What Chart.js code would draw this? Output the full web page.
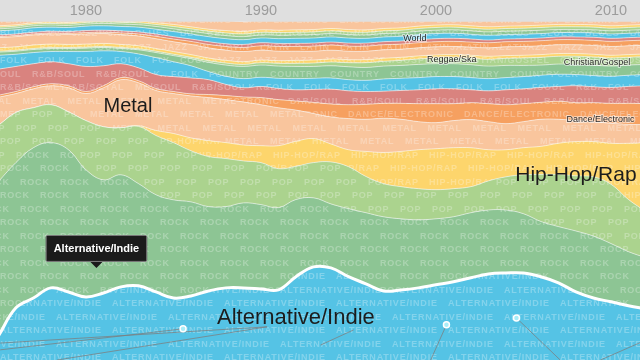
<!DOCTYPE html>
<html>
<head>
<meta charset="utf-8">
<script src="https://cdn.jsdelivr.net/npm/chart.js@4/dist/chart.umd.min.js"></script>
<style>
  html, body { margin: 0; padding: 0; background: #dfdfdf; }
  canvas { display: block; }
</style>
</head>
<body>
<canvas id="chart" width="640" height="360"></canvas>
<script>
// share of listening per genre, by year (bottom layer first)
const YEARS = [1975,1976,1977,1978,1979,1980,1981,1982,1983,1984,1985,1986,1987,1988,1989,1990,1991,1992,1993,1994,1995,1996,1997,1998,1999,2000,2001,2002,2003,2004,2005,2006,2007,2008,2009,2010,2011,2012];
const YEAR_TICKS = [1980, 1990, 2000, 2010];

const ALT = [7.1,15.4,18.3,21.3,20.1,18.6,19.8,21.6,21.9,20.1,18.3,18.9,20.4,21.3,21.3,21.0,20.7,24.6,27.5,27.2,24.6,22.5,20.4,20.7,21.3,22.2,23.1,24.3,25.4,25.7,25.7,24.6,22.8,20.1,18.3,17.2,16.0,15.1];
const ROCK = [45.6,42.9,44.4,42.9,42.0,37.6,33.4,33.1,30.2,28.7,29.0,27.8,24.9,24.0,25.1,24.9,24.3,22.8,20.4,18.9,20.1,21.0,21.9,21.0,20.1,19.5,19.2,19.2,18.9,18.6,17.5,16.3,16.6,18.0,18.3,17.2,16.0,15.1];
const POP = [16.6,14.8,11.8,11.2,11.2,14.5,15.7,13.9,16.9,17.5,16.9,15.1,14.8,14.2,12.4,12.4,11.5,9.8,10.4,12.4,12.4,10.7,9.8,9.5,9.2,8.6,8.3,7.7,8.6,9.8,11.5,13.9,15.4,16.3,17.5,17.5,15.4,13.6];
const HIPHOP = [0,0,0,0,0,0,0,0,0.2,1.5,2.7,3.8,4.7,4.7,4.7,5.0,6.8,7.4,7.1,5.3,5.0,7.4,9.2,10.4,11.5,12.1,12.1,11.5,9.2,8.0,8.0,8.3,9.2,10.1,10.4,12.1,16.6,20.4];
const METAL = [8.3,5.6,5.6,5.6,7.1,8.0,11.5,14.2,12.7,11.8,11.8,12.4,12.7,12.7,12.7,12.1,11.2,9.2,7.4,8.0,9.2,9.5,10.1,9.5,8.3,7.7,8.0,8.3,8.3,7.7,7.7,8.0,7.1,6.2,5.9,5.9,5.6,5.3];
const DANCE = [0.6,0.6,0.6,0.6,0.6,0.6,0.6,0.6,0.6,0.6,0.6,0.6,0.9,1.2,1.5,2.1,2.4,2.7,3.3,3.8,4.1,4.4,4.4,4.7,5.3,5.6,5.0,5.0,5.3,5.6,5.3,5.0,5.3,5.3,5.6,5.9,6.2,6.2];
const RNB = [7.7,7.4,6.8,6.5,6.5,7.4,5.9,4.1,3.8,4.1,4.4,4.7,4.4,3.3,2.7,3.3,3.3,3.3,3.8,4.4,4.1,3.8,3.6,3.8,4.1,4.4,4.4,3.8,3.8,4.4,4.4,4.4,4.4,5.0,4.7,4.7,5.0,5.3];
const FOLK = [4.1,3.6,3.3,3.0,3.6,4.4,4.4,3.6,4.1,5.0,4.4,3.6,2.4,2.4,2.7,2.7,3.0,3.3,3.3,3.3,3.3,3.3,3.6,3.6,3.6,3.6,3.6,3.6,3.6,3.6,3.6,3.6,3.6,3.3,3.3,3.3,3.3,3.3];
const COUNTRY = [0.9,0.9,0.9,0.9,0.9,1.0,1.0,0.9,1.2,1.5,1.8,2.1,2.7,3.3,3.6,3.6,3.6,3.6,3.5,3.6,3.8,3.8,3.8,3.8,3.9,3.8,3.8,3.8,3.7,3.6,3.3,3.0,3.0,3.0,3.1,3.0,3.0,3.0];
const GOSPEL = [0.3,0.3,0.3,0.3,0.3,0.3,0.3,0.3,0.3,0.4,0.4,0.4,0.5,0.6,0.6,0.7,0.8,0.9,1.0,1.1,1.2,1.4,1.4,1.5,1.6,1.7,1.8,1.9,2.0,2.1,2.2,2.3,2.3,2.4,2.4,2.4,2.3,2.3];
const REGGAE = [1.0,1.0,1.0,1.0,0.9,0.9,0.9,0.9,0.9,0.8,0.8,0.8,0.8,0.8,0.8,0.8,0.8,0.9,0.9,0.9,0.9,0.9,0.9,0.9,0.9,0.9,0.9,0.9,0.9,0.8,0.8,0.8,0.8,0.8,0.8,0.8,0.8,0.8];
const JAZZ = [3.0,3.0,3.0,3.0,3.0,3.0,2.9,2.9,2.9,2.9,2.9,3.0,3.0,3.0,3.0,2.9,2.8,2.7,2.6,2.6,2.5,2.5,2.5,2.4,2.4,2.4,2.4,2.4,2.5,2.6,2.6,2.6,2.6,2.6,2.6,2.6,2.6,2.6];
const LATIN = [0.3,0.3,0.3,0.3,0.3,0.4,0.4,0.5,0.6,0.7,0.8,0.9,1.0,1.1,1.2,1.3,1.4,1.4,1.5,1.5,1.5,1.5,1.5,1.5,1.5,1.5,1.5,1.5,1.5,1.5,1.5,1.5,1.5,1.5,1.5,1.5,1.5,1.5];
const WORLD = [0.5,0.5,0.5,0.5,0.5,0.6,0.6,0.6,0.6,0.7,0.7,0.7,0.8,0.8,0.9,0.9,0.9,0.9,0.9,0.9,0.9,0.9,0.9,0.9,0.9,0.9,0.9,0.9,0.8,0.8,0.8,0.8,0.8,0.8,0.9,0.9,0.9,0.9];
const BLUES = [1.2,1.2,1.3,1.2,1.2,1.3,1.3,1.3,1.4,1.4,1.5,1.5,1.5,1.5,1.4,1.4,1.4,1.5,1.5,1.5,1.5,1.4,1.4,1.4,1.5,1.5,1.5,1.4,1.4,1.3,1.3,1.3,1.3,1.3,1.3,1.3,1.3,1.3];
const CLASSICAL = [0.6,0.6,0.6,0.6,0.6,0.6,0.7,0.7,0.7,0.8,0.8,0.8,0.9,0.9,0.9,0.9,1.0,1.0,1.0,1.0,1.0,1.0,1.0,1.0,1.0,1.0,1.0,1.0,1.0,1.0,1.0,1.0,0.9,0.9,0.9,0.9,0.9,0.9];
const SOUNDTRACK = [0.5,0.5,0.5,0.5,0.5,0.5,0.5,0.5,0.6,0.6,0.7,0.7,0.7,0.8,0.8,0.8,0.8,0.8,0.8,0.8,0.8,0.8,0.8,0.8,0.8,0.8,0.8,0.8,0.8,0.8,0.8,0.8,0.8,0.8,0.8,0.8,0.8,0.8];
const NEWAGE = [0.4,0.4,0.4,0.4,0.4,0.4,0.4,0.4,0.5,0.5,0.6,0.6,0.6,0.7,0.7,0.7,0.7,0.7,0.7,0.7,0.7,0.7,0.7,0.7,0.7,0.7,0.7,0.7,0.7,0.7,0.7,0.7,0.7,0.7,0.7,0.7,0.7,0.7];
const EASY = [3.0,3.0,3.0,3.0,3.0,3.0,3.0,3.0,3.0,3.0,3.0,3.0,3.0,3.0,3.0,3.0,3.0,3.0,3.0,3.0,3.0,3.0,3.0,3.0,3.0,3.0,3.0,3.0,3.0,3.0,3.0,3.0,3.0,3.0,3.0,3.0,3.0,3.0];

const GENRES = ['Alternative/Indie','Rock','Pop','Hip-Hop/Rap','Metal','Dance/Electronic','R&B/Soul','Folk','Country','Christian/Gospel','Reggae/Ska','Jazz','Latin','World','Blues','Classical','Soundtrack','New Age','Easy Listening'];
const SERIES = [ALT, ROCK, POP, HIPHOP, METAL, DANCE, RNB, FOLK, COUNTRY, GOSPEL, REGGAE, JAZZ, LATIN, WORLD, BLUES, CLASSICAL, SOUNDTRACK, NEWAGE, EASY];

// grey trend line drawn over the bottom layer (null = break)
const TREND = [[1975.1,3.0],[1985.55,9.2],null,[1975.1,5.0],[1990.35,9.8],[1978.35,0],null,[1993.4,4.4],[1995.3,8.9],null,[1999.7,0],[2000.6,10.4],null,[2004.6,12.4],[2007.1,0],null,[2009.4,0],[2011.7,5.2]];
const TREND_DOTS = [1985.55, 2000.6, 2004.6];

// in-chart labels, placed in data space
const BIG_LABELS = [
  { text: 'Metal', year: 1982.4, value: 75.0, size: 20 },
  { text: 'Hip-Hop/Rap', year: 2008.0, value: 54.6, size: 21 },
  { text: 'Alternative/Indie', year: 1992.0, value: 12.3, size: 22 }
];
const SMALL_LABELS = [
  { text: 'World', year: 1998.8, value: 95.0 },
  { text: 'Reggae/Ska', year: 2000.9, value: 88.8 },
  { text: 'Christian/Gospel', year: 2009.2, value: 87.9 },
  { text: 'Dance/Electronic', year: 2009.4, value: 71.0 }
];
const TIP = { text: 'Alternative/Indie', year: 1980.6, value: 27.2 };

const PALETTE = ['#55c3e5', '#8dc594', '#abd38e', '#fdd56c', '#f9c59d', '#f6a060', '#d9837f'];
const FONT = '"Liberation Sans", Arial, Helvetica, sans-serif';

function texture(color, word) {
  const c = document.createElement('canvas');
  let g = c.getContext('2d');
  g.font = 'bold 9px ' + FONT;
  g.letterSpacing = '0.8px';
  const w = Math.ceil(g.measureText(word).width) + 10;
  c.width = w;
  c.height = 27;
  g = c.getContext('2d');
  g.fillStyle = color;
  g.fillRect(0, 0, w, 27);
  g.font = 'bold 9px ' + FONT;
  g.letterSpacing = '0.8px';
  g.textBaseline = 'middle';
  g.fillStyle = 'rgba(255,255,255,0.27)';
  g.fillText(word, 0, 7);
  g.fillText(word, w / 2, 20.5);
  g.fillText(word, w / 2 - w, 20.5);
  return g.createPattern(c, 'repeat');
}

const datasets = SERIES.map((vals, i) => ({
  label: GENRES[i],
  data: vals.map((v, j) => ({ x: YEARS[j], y: v })),
  backgroundColor: texture(PALETTE[i % PALETTE.length], GENRES[i].toUpperCase()),
  borderColor: i === 0 ? '#ffffff' : 'rgba(255,255,255,0.55)',
  borderWidth: i === 0 ? 3 : 1,
  fill: i === 0 ? 'origin' : '-1',
  pointRadius: 0,
  tension: 0.4
}));

datasets.push({
  label: 'trend',
  yAxisID: 'y2',
  order: -1,
  data: TREND.map(p => p ? { x: p[0], y: p[1] } : { x: null, y: null }),
  borderColor: 'rgba(125,125,125,0.75)',
  borderWidth: 1,
  fill: false,
  tension: 0,
  spanGaps: false,
  pointRadius: ctx => (ctx.raw && TREND_DOTS.includes(ctx.raw.x)) ? 3 : 0,
  pointBackgroundColor: '#a9edf8',
  pointBorderColor: '#ffffff',
  pointBorderWidth: 1.5
});

const labelsPlugin = {
  id: 'labels',
  afterDatasetsDraw(chart) {
    const { ctx, scales } = chart;
    const x = scales.x, y = scales.y;
    ctx.save();
    ctx.textAlign = 'center';
    ctx.textBaseline = 'middle';

    SMALL_LABELS.forEach(l => {
      const px = x.getPixelForValue(l.year), py = y.getPixelForValue(l.value);
      ctx.font = '9px ' + FONT;
      ctx.lineWidth = 2;
      ctx.strokeStyle = 'rgba(255,255,255,0.55)';
      ctx.strokeText(l.text, px, py);
      ctx.fillStyle = '#2b2b2b';
      ctx.fillText(l.text, px, py);
    });

    BIG_LABELS.forEach(l => {
      ctx.font = l.size + 'px ' + FONT;
      ctx.fillStyle = '#1c1c1c';
      ctx.fillText(l.text, x.getPixelForValue(l.year), y.getPixelForValue(l.value));
    });

    // static tooltip over the bottom layer
    const tx = x.getPixelForValue(TIP.year), ty = y.getPixelForValue(TIP.value);
    ctx.font = 'bold 11px ' + FONT;
    const bw = ctx.measureText(TIP.text).width + 16, bh = 27;
    const bx = tx - bw / 2, by = ty - 6 - bh;
    ctx.beginPath();
    ctx.roundRect(bx, by, bw, bh, 2);
    ctx.moveTo(tx - 6, by + bh);
    ctx.lineTo(tx, by + bh + 6);
    ctx.lineTo(tx + 6, by + bh);
    ctx.fillStyle = '#1b1b1b';
    ctx.fill();
    ctx.strokeStyle = 'rgba(255,255,255,0.45)';
    ctx.lineWidth = 1;
    ctx.strokeRect(bx + 0.5, by + 0.5, bw - 1, bh - 1);
    ctx.fillStyle = '#ffffff';
    ctx.fillText(TIP.text, tx, by + bh / 2 + 0.5);
    ctx.restore();
  }
};

new Chart(document.getElementById('chart'), {
  type: 'line',
  data: { datasets },
  options: {
    responsive: false,
    animation: false,
    events: [],
    layout: { padding: 0 },
    plugins: { legend: { display: false }, tooltip: { enabled: false } },
    scales: {
      x: {
        type: 'linear',
        position: 'top',
        min: 1975.09,
        max: 2011.66,
        afterBuildTicks: axis => { axis.ticks = YEAR_TICKS.map(v => ({ value: v })); },
        grid: { display: false, drawTicks: false },
        border: { display: false },
        ticks: {
          color: '#9c9c9c',
          padding: 2,
          maxRotation: 0,
          autoSkip: false,
          font: { family: FONT, size: 14.5 },
          callback: v => String(v)
        }
      },
      y: { stacked: true, min: 0, max: 100, display: false },
      y2: { min: 0, max: 100, display: false }
    }
  },
  plugins: [labelsPlugin]
});
</script>
</body>
</html>
